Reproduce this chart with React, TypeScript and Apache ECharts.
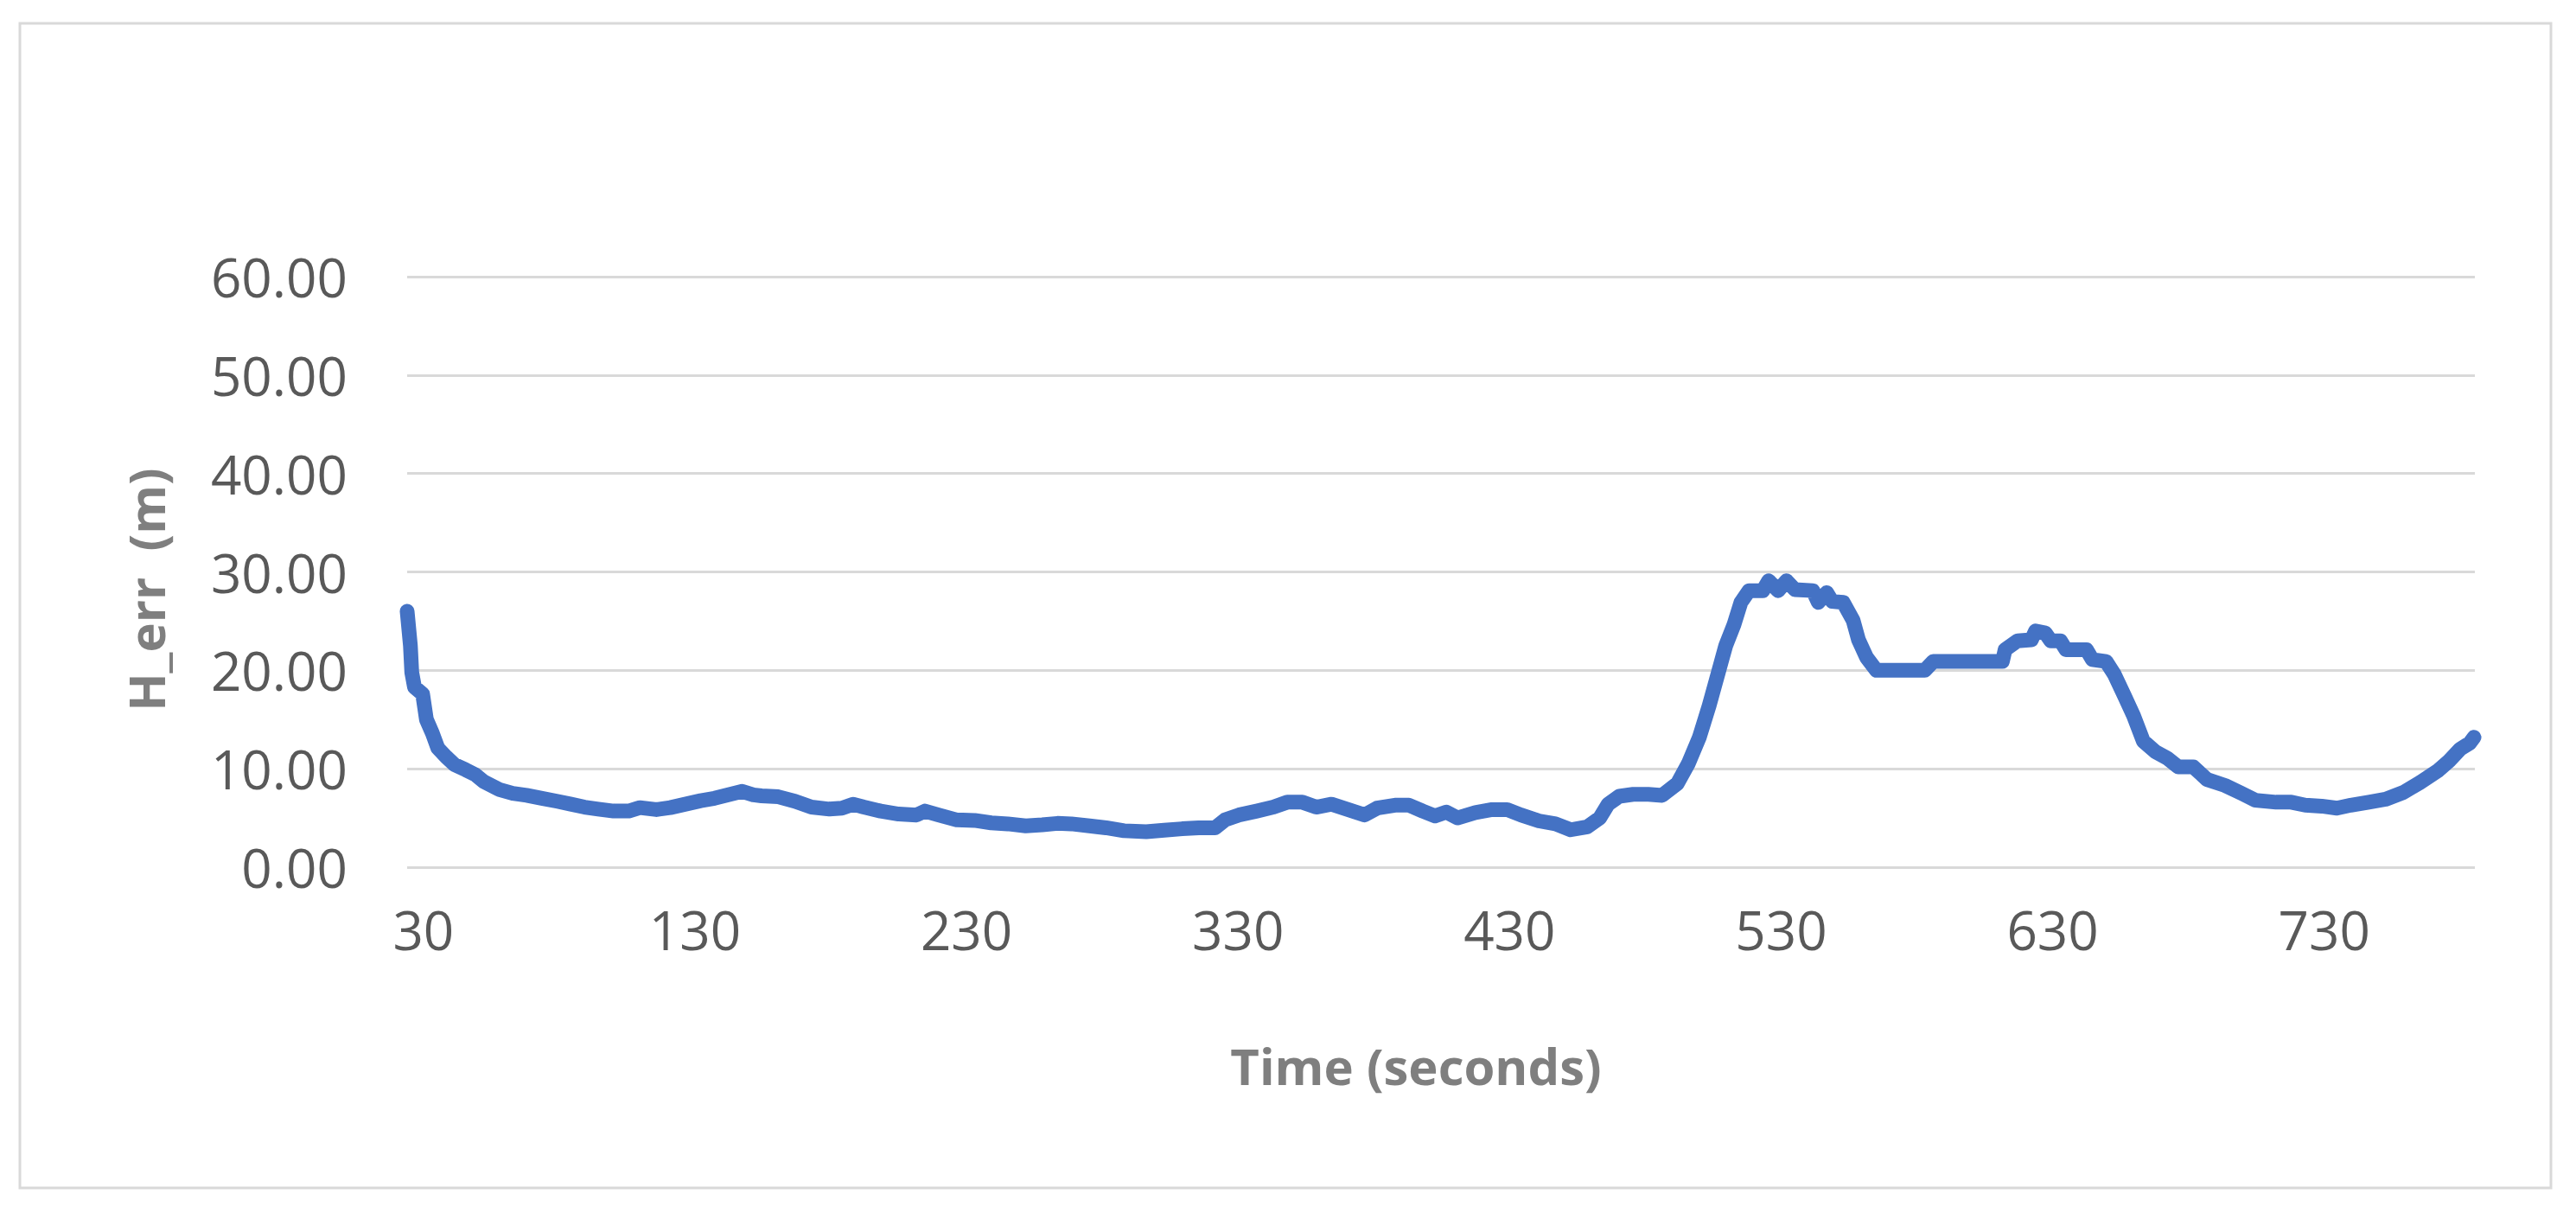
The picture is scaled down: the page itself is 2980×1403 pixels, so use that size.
import React, { useEffect, useRef } from "react";
import * as echarts from "echarts";

const times: number[] = [
  24.0, 25.2, 25.7, 26.7, 29.7, 31.1, 33.3, 35.3, 38.4, 41.5, 45.5, 49.1, 52.2, 57.8, 62.9, 68.0, 73.6, 79.2, 84.3, 89.3,
  94.4, 100.0, 105.6, 109.7, 115.8, 120.9, 126.5, 132.1, 137.2, 142.3, 147.4, 151.5, 154.5, 160.7, 166.8, 172.9, 179.5, 184.1, 188.2, 192.2,
  198.4, 205.0, 211.6, 214.7, 219.7, 226.4, 233.0, 239.1, 245.2, 251.8, 257.9, 263.5, 268.6, 275.3, 281.4, 288.0, 296.2, 302.8, 309.4, 315.5,
  321.6, 325.2, 330.3, 336.9, 343.0, 348.1, 353.7, 358.8, 364.4, 370.5, 376.6, 381.2, 387.8, 392.9, 398.0, 402.6, 406.7, 410.8, 417.4, 423.5,
  429.1, 434.2, 440.8, 446.9, 452.5, 458.6, 463.2, 466.3, 470.4, 475.5, 481.1, 486.2, 491.8, 495.8, 499.9, 503.5, 507.0, 509.6, 512.6, 515.2,
  518.2, 523.3, 525.4, 528.9, 532.0, 535.1, 541.7, 543.7, 546.8, 548.8, 552.9, 556.5, 558.5, 561.5, 565.1, 572.2, 582.9, 586.0, 593.6, 603.8,
  611.5, 612.5, 617.1, 622.2, 623.7, 627.3, 629.3, 632.9, 634.9, 642.5, 644.6, 649.7, 652.7, 656.3, 659.8, 663.4, 668.0, 672.1, 676.2, 681.8,
  686.9, 693.5, 699.6, 704.7, 712.3, 717.9, 723.0, 729.1, 734.7, 739.8, 746.4, 752.6, 759.2, 765.3, 771.9, 776.0, 780.1, 783.6, 785.2,
];

const hErr: number[] = [
  26.0, 22.5, 19.8, 18.3, 17.6, 15.0, 13.6, 12.1, 11.2, 10.4, 9.9, 9.4, 8.7, 7.9, 7.5, 7.3, 7.0, 6.7, 6.4, 6.1,
  5.9, 5.7, 5.7, 6.05, 5.85, 6.05, 6.4, 6.75, 7.0, 7.35, 7.7, 7.35, 7.25, 7.15, 6.7, 6.1, 5.9, 6.0, 6.4, 6.1,
  5.7, 5.4, 5.3, 5.7, 5.3, 4.8, 4.75, 4.5, 4.4, 4.2, 4.3, 4.45, 4.4, 4.2, 4.0, 3.7, 3.6, 3.75, 3.9, 4.0,
  4.0, 4.8, 5.3, 5.7, 6.1, 6.6, 6.6, 6.1, 6.4, 5.85, 5.3, 6.0, 6.3, 6.3, 5.7, 5.2, 5.6, 5.0, 5.55, 5.85,
  5.85, 5.3, 4.7, 4.4, 3.8, 4.1, 5.0, 6.4, 7.2, 7.4, 7.4, 7.3, 8.5, 10.5, 13.2, 16.4, 19.9, 22.5, 24.6, 26.9,
  28.1, 28.1, 29.1, 28.1, 29.1, 28.2, 28.1, 26.9, 27.9, 27.0, 26.9, 25.1, 23.1, 21.3, 20.0, 20.0, 20.0, 20.9, 20.9, 20.9,
  20.9, 22.1, 23.0, 23.1, 24.0, 23.8, 23.0, 23.0, 22.1, 22.1, 21.1, 20.9, 19.6, 17.5, 15.4, 12.8, 11.7, 11.1, 10.2, 10.2,
  8.9, 8.3, 7.5, 6.8, 6.6, 6.6, 6.3, 6.2, 6.0, 6.3, 6.6, 6.9, 7.6, 8.6, 9.8, 10.8, 12.0, 12.6, 13.2,
];

const xTickLabels: number[] = [30, 130, 230, 330, 430, 530, 630, 730];
const yTicks: number[] = [0, 10, 20, 30, 40, 50, 60];

const xTitle = "Time (seconds)";
const yTitle = "H_err  (m)";

export default function App() {
  const ref = useRef<HTMLDivElement>(null);

  useEffect(() => {
    if (!ref.current) return;
    const chart = echarts.init(ref.current, undefined, { renderer: "svg" });
    const data = times.map((t, i) => [t, hErr[i]]);
    const font = "'Open Sans', 'Noto Sans', sans-serif";
    chart.setOption({
      animation: false,
      backgroundColor: "#ffffff",
      grid: { left: 471, right: 117, top: 320, bottom: 400, containLabel: false },
      xAxis: {
        type: "value",
        min: 24,
        max: 785.5,
        axisLine: { show: false },
        axisTick: { show: false },
        splitLine: { show: false },
        axisLabel: {
          customValues: xTickLabels,
          color: "#595959",
          fontSize: 62,
          fontFamily: font,
          margin: 41,
        },
      },
      yAxis: {
        type: "value",
        min: yTicks[0],
        max: yTicks[yTicks.length - 1],
        interval: 10,
        axisLine: { show: false },
        axisTick: { show: false },
        splitLine: { show: true, lineStyle: { color: "#d9d9d9", width: 3 } },
        axisLabel: {
          color: "#595959",
          fontSize: 62,
          fontFamily: font,
          margin: 69,
          formatter: (v: number) => v.toFixed(2),
        },
      },
      graphic: [
        {
          type: "rect",
          shape: { x: 23, y: 27, width: 2928, height: 1347 },
          style: { fill: "none", stroke: "#d9d9d9", lineWidth: 3 },
          silent: true,
        },
        {
          type: "text",
          x: 1638,
          y: 1232,
          style: {
            text: xTitle,
            fill: "#7f7f7f",
            font: `bold 58px ${font}`,
            align: "center",
            verticalAlign: "middle",
          },
        },
        {
          type: "text",
          x: 168,
          y: 682,
          rotation: Math.PI / 2,
          style: {
            text: yTitle,
            fill: "#7f7f7f",
            font: `bold 58px ${font}`,
            align: "center",
            verticalAlign: "middle",
          },
        },
      ],
      series: [
        {
          type: "line",
          data,
          showSymbol: false,
          smooth: false,
          lineStyle: { color: "#4472C4", width: 17, cap: "round", join: "round" },
          itemStyle: { color: "#4472C4" },
        },
      ],
    });
    return () => chart.dispose();
  }, []);

  return (
    <div
      ref={ref}
      style={{ position: "fixed", left: 0, top: 0, width: 2980, height: 1403 }}
    />
  );
}
